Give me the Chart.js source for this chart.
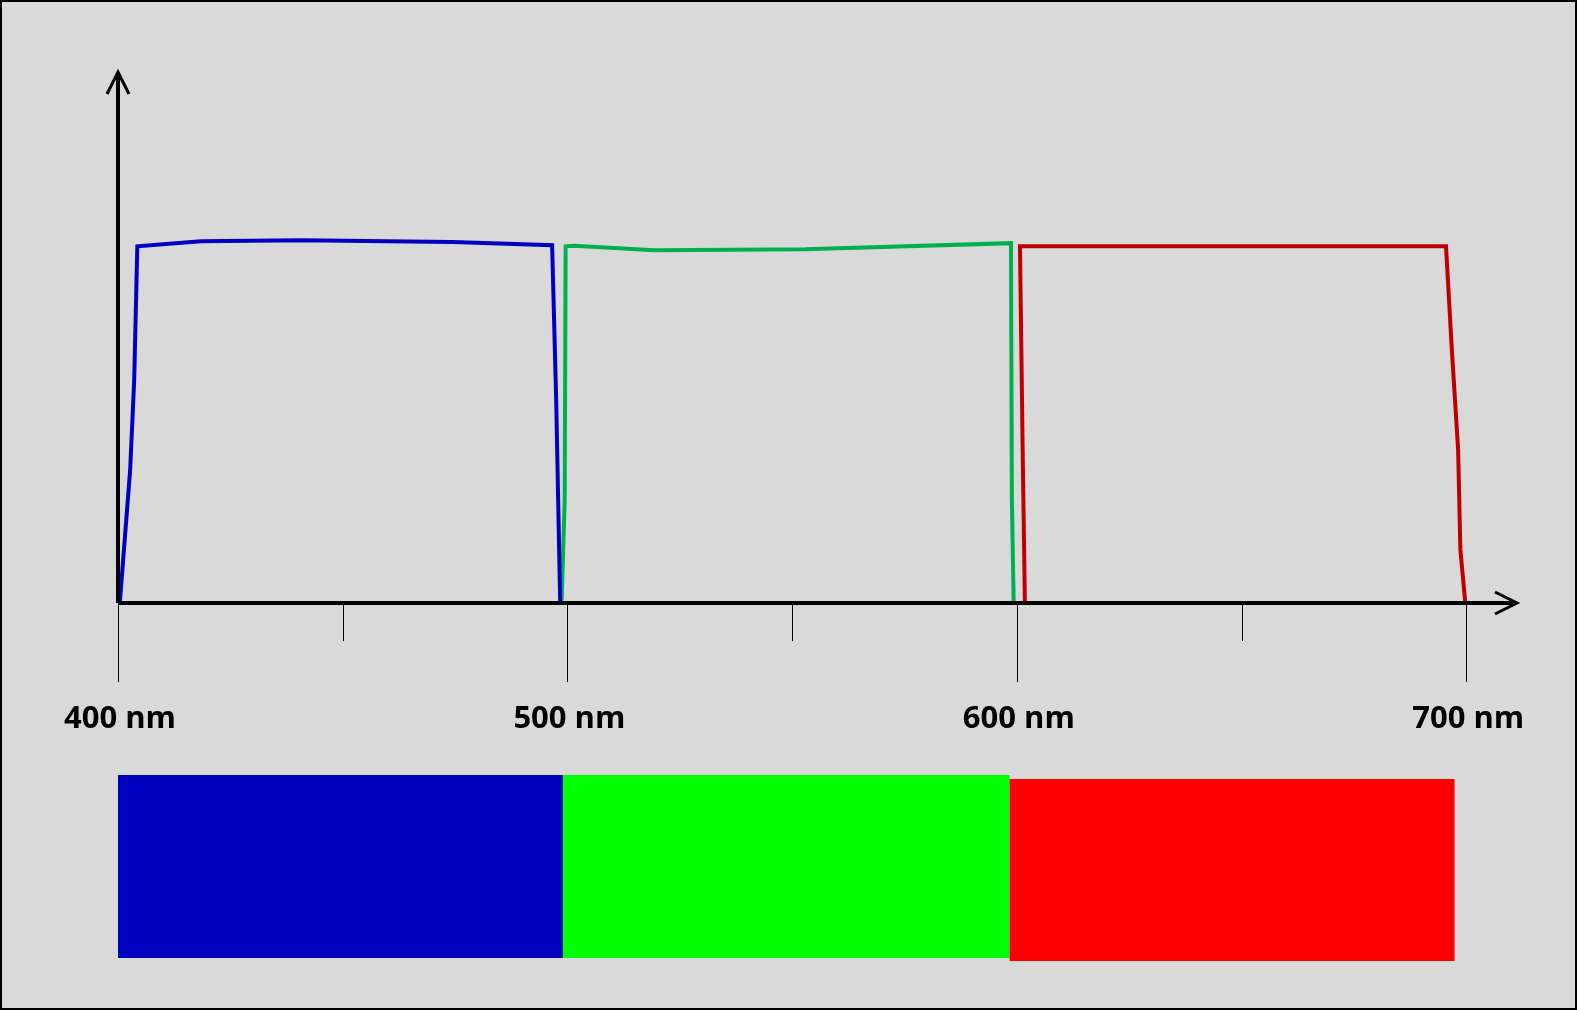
<!DOCTYPE html>
<html>
<head>
<meta charset="utf-8">
<script src="https://cdn.jsdelivr.net/npm/chart.js@4"></script>
<style>
  html, body { margin: 0; padding: 0; overflow: hidden; background: #d9d9d9; }
  #wrap { width: 1577px; height: 1010px; position: relative; }
</style>
</head>
<body>
<div id="wrap"><canvas id="chart"></canvas></div>
<script>
// filter transmission curves, wavelength in nm vs relative value
const blueX = [400.4, 402.7, 403.6, 404.3, 418.4, 440.8, 474.4, 496.6, 497.5, 498.4];
const blueY = [0, 0.37, 0.62, 0.994, 1.008, 1.011, 1.006, 0.997, 0.567, 0];
const greenX = [498.7, 499.4, 499.6, 501.5, 519.3, 552.9, 598.7, 598.9, 599.3];
const greenY = [0, 0.29, 0.994, 0.996, 0.983, 0.986, 1.003, 0.29, 0];
const redX = [601.8, 601.3, 600.7, 642.6, 695.5, 696.8, 698.2, 698.7, 699.8];
const redY = [0, 0.43, 0.994, 0.994, 0.994, 0.707, 0.427, 0.148, 0];

const majorTicks = [400, 500, 600, 700];
const minorTicks = [450, 550, 650];
const tickLabels = ['400 nm', '500 nm', '600 nm', '700 nm'];
const bandEdges = [400, 499, 598.4, 697.4];
const bandColors = ['#0000c0', '#00ff00', '#ff0000'];

const toPts = (xs, ys) => xs.map((x, i) => ({ x: x, y: ys[i] }));

const decor = {
  id: 'decor',
  beforeDraw(chart) {
    const c = chart.ctx;
    c.save();
    c.fillStyle = '#d9d9d9';
    c.fillRect(0, 0, chart.width, chart.height);
    c.restore();
  },
  afterDraw(chart) {
    const c = chart.ctx;
    const xs = chart.scales.x, ys = chart.scales.y;
    const a = chart.chartArea;
    const y0 = ys.getPixelForValue(0);
    const x0 = xs.getPixelForValue(400);
    c.save();
    // colour bands
    for (let i = 0; i < bandColors.length; i++) {
      const l = xs.getPixelForValue(bandEdges[i]);
      const r = xs.getPixelForValue(bandEdges[i + 1]);
      c.fillStyle = bandColors[i];
      const top = i === 2 ? 779 : 775;
      const bot = i === 2 ? 961 : 958;
      c.fillRect(l, top, r - l, bot - top);
    }
    // ticks
    c.strokeStyle = '#000';
    c.lineWidth = 1;
    majorTicks.forEach(t => {
      const p = Math.round(xs.getPixelForValue(t)) + 0.5;
      c.beginPath(); c.moveTo(p, y0); c.lineTo(p, 682); c.stroke();
    });
    minorTicks.forEach(t => {
      const p = Math.round(xs.getPixelForValue(t)) + 0.5;
      c.beginPath(); c.moveTo(p, y0); c.lineTo(p, 641); c.stroke();
    });
    // axes
    c.lineWidth = 4;
    c.beginPath(); c.moveTo(x0, y0); c.lineTo(a.right - 4, y0); c.stroke();
    c.beginPath(); c.moveTo(x0, y0); c.lineTo(x0, a.top + 4); c.stroke();
    c.lineWidth = 3;
    c.beginPath();
    c.moveTo(a.right - 22, y0 - 11); c.lineTo(a.right, y0); c.lineTo(a.right - 22, y0 + 11);
    c.stroke();
    c.beginPath();
    c.moveTo(x0 - 11, a.top + 22); c.lineTo(x0, a.top); c.lineTo(x0 + 11, a.top + 22);
    c.stroke();
    // labels
    c.fillStyle = '#000';
    c.font = 'bold 31px "Open Sans", sans-serif';
    c.textAlign = 'center';
    c.textBaseline = 'middle';
    majorTicks.forEach((t, i) => {
      c.fillText(tickLabels[i], xs.getPixelForValue(t) + 2, 719);
    });
    // border
    c.lineWidth = 2;
    c.strokeRect(1, 1, chart.width - 2, chart.height - 2);
    c.restore();
  }
};

const lineStyle = { borderWidth: 4, pointRadius: 0, tension: 0, fill: false };

new Chart(document.getElementById('chart'), {
  type: 'line',
  data: {
    datasets: [
      Object.assign({ data: toPts(blueX, blueY), borderColor: '#0000c0' }, lineStyle),
      Object.assign({ data: toPts(greenX, greenY), borderColor: '#00b050' }, lineStyle),
      Object.assign({ data: toPts(redX, redY), borderColor: '#c00000' }, lineStyle)
    ]
  },
  options: {
    responsive: true,
    maintainAspectRatio: false,
    animation: false,
    layout: { padding: { left: 118, right: 60, top: 72, bottom: 407 } },
    plugins: { legend: { display: false }, tooltip: { enabled: false } },
    scales: {
      x: { type: 'linear', min: 400, max: 711.3, display: false },
      y: { min: 0, max: 1.48, display: false }
    }
  },
  plugins: [decor]
});
</script>
</body>
</html>
